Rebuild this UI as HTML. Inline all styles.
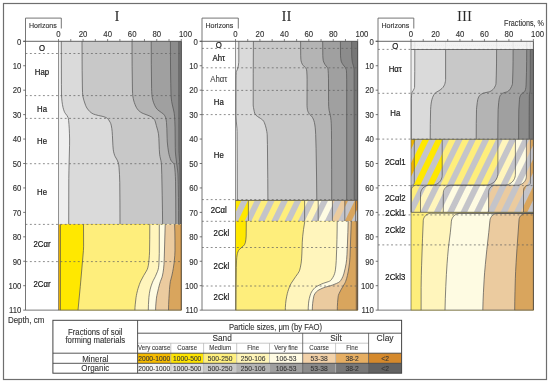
<!DOCTYPE html>
<html><head><meta charset="utf-8"><style>
html,body{margin:0;padding:0;background:#fff;}
#wrap{position:relative;width:550px;height:383px;overflow:hidden;background:#fff;}
svg{position:absolute;left:0;top:0;}
</style></head><body><div id="wrap">
<svg width="550" height="383" viewBox="0 0 550 383">
<defs>
<pattern id="hp2" patternUnits="userSpaceOnUse" width="12.0" height="12.0" patternTransform="translate(268,200.6) rotate(26)"><rect x="0" y="0" width="6.0" height="12.0" fill="#c4c4c9"/></pattern>
<clipPath id="c1"><rect x="235.5" y="200.5" width="122.2" height="20.7"/></clipPath>
<pattern id="hp3" patternUnits="userSpaceOnUse" width="12.0" height="12.0" patternTransform="translate(469,140) rotate(26)"><rect x="0" y="0" width="6.0" height="12.0" fill="#c4c4c9"/></pattern>
<clipPath id="c2"><rect x="411" y="139.3" width="122.4" height="73"/></clipPath>
</defs>
<rect x="3.5" y="3.5" width="543" height="376" fill="#fff" stroke="#6e6e6e" stroke-width="1.2"/>
<rect x="58.5" y="41.3" width="122.8" height="183.1" fill="#eeeeee"/>
<polygon points="61.3,41.3 61.42,84.76 61.5,95.26 61.68,98.25 62.04,101.75 62.44,104.5 63.03,107.5 63.66,109.74 64.2,111.24 64.74,112.49 65.21,113.24 66.93,115.49 67.92,117.24 68.29,118.24 68.62,120.49 68.97,124.48 69.22,128.23 69.44,133.22 69.6,138.97 69.56,145.71 68.94,170.19 68.81,178.44 68.7,224.4 181.3,224.4 181.3,41.3" fill="#dadada"/>
<polygon points="82,41.3 82.15,70.28 82.4,88.01 82.54,92.51 82.72,95.26 82.97,96.75 83.87,100.25 85.11,104 85.66,105.5 86.22,106.75 86.93,108 87.6,108.99 88.6,110.24 89.75,111.49 90.87,112.49 91.93,113.24 93.3,113.99 95.54,114.74 98.36,115.49 102.03,116.24 103.86,116.74 105.89,117.49 106.41,117.74 107.18,118.24 107.98,118.99 108.6,119.74 110.15,122.23 110.82,123.73 111.38,125.98 111.85,128.73 112.16,131.73 112.42,135.47 112.92,145.71 113.21,149.21 113.49,151.21 113.96,153.21 114.67,155.46 115.26,156.71 117.26,160.2 118.32,162.95 118.76,164.7 119.03,167.45 119.51,174.69 119.77,182.68 119.94,202.92 120,224.4 181.3,224.4 181.3,41.3" fill="#c8c8c8"/>
<polygon points="132,41.3 132.11,66.28 132.45,90.01 132.6,93.51 132.8,96.01 133.19,98.25 133.83,101 134.3,102.5 134.94,104.25 135.66,106 136.26,107.25 136.83,108.25 137.51,109.24 138.35,110.24 139.14,110.99 140.76,112.24 142.01,112.99 143.78,113.74 149.08,115.74 151.12,116.74 152.69,117.74 153.47,118.49 154.09,119.24 154.86,120.49 155.42,121.98 156.33,125.48 157.81,130.73 158.4,133.47 158.6,134.97 158.86,138.47 159.31,149.46 159.62,154.21 159.97,156.46 160.87,160.45 161.2,162.2 161.38,163.7 161.5,165.95 161.79,174.69 162.2,195.17 162.46,210.91 162.6,224.4 181.3,224.4 181.3,41.3" fill="#b4b4b4"/>
<polygon points="151.2,41.3 151.3,64.78 151.6,88.26 151.7,91.51 151.88,94.76 152,96.01 152.24,97.5 152.9,100.5 153.6,102.75 154.86,105.75 155.99,107.75 157.13,109.24 157.93,109.99 161.29,112.49 163.08,113.74 163.68,114.24 164.1,114.74 164.75,115.74 165.14,116.49 165.53,117.49 166.16,119.99 166.48,122.48 166.83,128.23 167.14,138.47 167.31,141.97 167.83,147.21 168.57,152.21 169.04,154.46 169.57,156.46 170.22,158.45 170.89,160.2 171.57,161.2 173.8,163.7 174.24,164.45 174.43,165.2 174.85,168.95 175.17,172.69 175.39,176.69 175.54,181.19 175.73,200.92 175.8,224.4 181.3,224.4 181.3,41.3" fill="#a0a0a0"/>
<polygon points="170.4,41.3 170.44,56.29 170.55,70.03 170.75,83.27 171.02,95.51 171.21,98 171.65,101.5 172.15,104 173.99,111.99 174.22,113.49 174.52,116.24 174.82,121.23 175.05,127.73 175.26,147.46 175.38,151.96 175.77,156.21 176.88,165.2 177.67,170.94 177.95,173.94 178.22,184.18 178.44,197.42 178.56,210.66 178.6,224.4 181.3,224.4 181.3,41.3" fill="#8c8c8c"/>
<polygon points="178.8,41.3 178.9,150.21 179.02,153.46 179.64,161.45 179.8,164.95 180.1,193.68 180.2,224.4 181.3,224.4 181.3,41.3" fill="#767676"/>
<polyline points="61.3,41.3 61.42,84.76 61.5,95.26 61.68,98.25 62.04,101.75 62.44,104.5 63.03,107.5 63.66,109.74 64.2,111.24 64.74,112.49 65.21,113.24 66.93,115.49 67.92,117.24 68.29,118.24 68.62,120.49 68.97,124.48 69.22,128.23 69.44,133.22 69.6,138.97 69.56,145.71 68.94,170.19 68.81,178.44 68.7,224.4" fill="none" stroke="#505050" stroke-width="0.7"/>
<polyline points="82,41.3 82.15,70.28 82.4,88.01 82.54,92.51 82.72,95.26 82.97,96.75 83.87,100.25 85.11,104 85.66,105.5 86.22,106.75 86.93,108 87.6,108.99 88.6,110.24 89.75,111.49 90.87,112.49 91.93,113.24 93.3,113.99 95.54,114.74 98.36,115.49 102.03,116.24 103.86,116.74 105.89,117.49 106.41,117.74 107.18,118.24 107.98,118.99 108.6,119.74 110.15,122.23 110.82,123.73 111.38,125.98 111.85,128.73 112.16,131.73 112.42,135.47 112.92,145.71 113.21,149.21 113.49,151.21 113.96,153.21 114.67,155.46 115.26,156.71 117.26,160.2 118.32,162.95 118.76,164.7 119.03,167.45 119.51,174.69 119.77,182.68 119.94,202.92 120,224.4" fill="none" stroke="#505050" stroke-width="0.7"/>
<polyline points="132,41.3 132.11,66.28 132.45,90.01 132.6,93.51 132.8,96.01 133.19,98.25 133.83,101 134.3,102.5 134.94,104.25 135.66,106 136.26,107.25 136.83,108.25 137.51,109.24 138.35,110.24 139.14,110.99 140.76,112.24 142.01,112.99 143.78,113.74 149.08,115.74 151.12,116.74 152.69,117.74 153.47,118.49 154.09,119.24 154.86,120.49 155.42,121.98 156.33,125.48 157.81,130.73 158.4,133.47 158.6,134.97 158.86,138.47 159.31,149.46 159.62,154.21 159.97,156.46 160.87,160.45 161.2,162.2 161.38,163.7 161.5,165.95 161.79,174.69 162.2,195.17 162.46,210.91 162.6,224.4" fill="none" stroke="#505050" stroke-width="0.7"/>
<polyline points="151.2,41.3 151.3,64.78 151.6,88.26 151.7,91.51 151.88,94.76 152,96.01 152.24,97.5 152.9,100.5 153.6,102.75 154.86,105.75 155.99,107.75 157.13,109.24 157.93,109.99 161.29,112.49 163.08,113.74 163.68,114.24 164.1,114.74 164.75,115.74 165.14,116.49 165.53,117.49 166.16,119.99 166.48,122.48 166.83,128.23 167.14,138.47 167.31,141.97 167.83,147.21 168.57,152.21 169.04,154.46 169.57,156.46 170.22,158.45 170.89,160.2 171.57,161.2 173.8,163.7 174.24,164.45 174.43,165.2 174.85,168.95 175.17,172.69 175.39,176.69 175.54,181.19 175.73,200.92 175.8,224.4" fill="none" stroke="#505050" stroke-width="0.7"/>
<polyline points="170.4,41.3 170.44,56.29 170.55,70.03 170.75,83.27 171.02,95.51 171.21,98 171.65,101.5 172.15,104 173.99,111.99 174.22,113.49 174.52,116.24 174.82,121.23 175.05,127.73 175.26,147.46 175.38,151.96 175.77,156.21 176.88,165.2 177.67,170.94 177.95,173.94 178.22,184.18 178.44,197.42 178.56,210.66 178.6,224.4" fill="none" stroke="#505050" stroke-width="0.7"/>
<polyline points="178.8,41.3 178.9,150.21 179.02,153.46 179.64,161.45 179.8,164.95 180.1,193.68 180.2,224.4" fill="none" stroke="#505050" stroke-width="0.7"/>
<rect x="58.5" y="224.4" width="122.8" height="85.74" fill="#f2b600"/>
<polygon points="60.4,224.4 60.4,310.14 181.3,310.14 181.3,224.4" fill="#ffe800"/>
<polygon points="83.5,224.4 83.6,246.15 83.45,250.4 80.28,286.64 78,310.14 181.3,310.14 181.3,224.4" fill="#feee7c"/>
<polygon points="149.8,224.4 149.73,239.15 149.55,251.9 149.37,255.4 149.07,259.15 148.73,262.65 148.37,265.15 147.78,267.89 147.24,269.39 146.33,271.14 143.77,275.39 140.87,280.89 140.31,282.14 139.42,284.39 138.08,288.39 137.53,290.39 136.81,293.39 136.35,295.64 136.02,297.64 135.19,304.89 134.99,307.64 134.9,310.14 181.3,310.14 181.3,224.4" fill="#fff5bc"/>
<polygon points="159.3,224.4 159.27,253.4 158.97,262.65 158.8,265.15 158.55,267.39 158.17,269.39 157.51,271.39 155.27,276.64 153.19,280.64 152.5,282.14 151.14,285.89 150.19,289.14 149.39,293.39 148.89,297.39 148.44,304.64 148.3,310.14 181.3,310.14 181.3,224.4" fill="#fefbe2"/>
<polygon points="165.2,224.4 164.23,258.9 163.97,264.4 163.59,268.89 163.09,272.39 162.34,276.14 161.8,277.89 160.35,281.64 159.66,283.89 158.49,288.39 156.84,295.64 156.44,298.14 155.94,303.14 155.68,306.89 155.6,310.14 181.3,310.14 181.3,224.4" fill="#ebcb9f"/>
<polygon points="174.6,224.4 174.86,231.9 174.98,240.9 174.99,250.9 174.79,255.4 174.11,262.9 173.3,268.39 172.7,271.64 171.8,275.89 170.38,281.39 169.91,284.64 169.48,289.39 168.91,298.39 168.62,304.64 168.5,310.14 181.3,310.14 181.3,224.4" fill="#d9a55d"/>
<polygon points="180.6,224.4 180.6,310.14 181.3,310.14 181.3,224.4" fill="#cf8630"/>
<polyline points="60.4,224.4 60.4,310.14" fill="none" stroke="#505050" stroke-width="0.7"/>
<polyline points="83.5,224.4 83.6,246.15 83.45,250.4 80.28,286.64 78,310.14" fill="none" stroke="#505050" stroke-width="0.7"/>
<polyline points="149.8,224.4 149.73,239.15 149.55,251.9 149.37,255.4 149.07,259.15 148.73,262.65 148.37,265.15 147.78,267.89 147.24,269.39 146.33,271.14 143.77,275.39 140.87,280.89 140.31,282.14 139.42,284.39 138.08,288.39 137.53,290.39 136.81,293.39 136.35,295.64 136.02,297.64 135.19,304.89 134.99,307.64 134.9,310.14" fill="none" stroke="#505050" stroke-width="0.7"/>
<polyline points="159.3,224.4 159.27,253.4 158.97,262.65 158.8,265.15 158.55,267.39 158.17,269.39 157.51,271.39 155.27,276.64 153.19,280.64 152.5,282.14 151.14,285.89 150.19,289.14 149.39,293.39 148.89,297.39 148.44,304.64 148.3,310.14" fill="none" stroke="#505050" stroke-width="0.7"/>
<polyline points="165.2,224.4 164.23,258.9 163.97,264.4 163.59,268.89 163.09,272.39 162.34,276.14 161.8,277.89 160.35,281.64 159.66,283.89 158.49,288.39 156.84,295.64 156.44,298.14 155.94,303.14 155.68,306.89 155.6,310.14" fill="none" stroke="#505050" stroke-width="0.7"/>
<polyline points="174.6,224.4 174.86,231.9 174.98,240.9 174.99,250.9 174.79,255.4 174.11,262.9 173.3,268.39 172.7,271.64 171.8,275.89 170.38,281.39 169.91,284.64 169.48,289.39 168.91,298.39 168.62,304.64 168.5,310.14" fill="none" stroke="#505050" stroke-width="0.7"/>
<line x1="58.5" y1="41.3" x2="58.5" y2="310.14" stroke="#666" stroke-width="0.7"/>
<line x1="181.3" y1="41.3" x2="181.3" y2="310.14" stroke="#444" stroke-width="0.9"/>
<line x1="25.5" y1="53.5" x2="181.3" y2="53.5" stroke="#606060" stroke-width="0.72" stroke-dasharray="1.9,2.46"/>
<line x1="25.5" y1="95.6" x2="181.3" y2="95.6" stroke="#606060" stroke-width="0.72" stroke-dasharray="1.9,2.46"/>
<line x1="25.5" y1="118.4" x2="181.3" y2="118.4" stroke="#606060" stroke-width="0.72" stroke-dasharray="1.9,2.46"/>
<line x1="25.5" y1="163.7" x2="181.3" y2="163.7" stroke="#606060" stroke-width="0.72" stroke-dasharray="1.9,2.46"/>
<line x1="25.5" y1="224.4" x2="181.3" y2="224.4" stroke="#606060" stroke-width="0.72" stroke-dasharray="1.9,2.46"/>
<line x1="25.5" y1="261.6" x2="181.3" y2="261.6" stroke="#606060" stroke-width="0.72" stroke-dasharray="1.9,2.46"/>
<polyline points="25.5,310.14 25.5,18.1 61.3,18.1 61.3,28.5" fill="none" stroke="#666" stroke-width="0.9"/>
<text transform="translate(28.9,28.1) scale(1,1.12)" font-size="7.1" text-anchor="start" font-family='"Liberation Sans", Arial, Helvetica, sans-serif' fill="#333" stroke="#333" stroke-width="0.12">Horizons</text>
<line x1="23.2" y1="41.3" x2="181.3" y2="41.3" stroke="#555" stroke-width="0.9"/>
<line x1="58.5" y1="39" x2="58.5" y2="41.3" stroke="#555" stroke-width="0.7"/>
<line x1="70.78" y1="39" x2="70.78" y2="41.3" stroke="#555" stroke-width="0.7"/>
<line x1="83.06" y1="39" x2="83.06" y2="41.3" stroke="#555" stroke-width="0.7"/>
<line x1="95.34" y1="39" x2="95.34" y2="41.3" stroke="#555" stroke-width="0.7"/>
<line x1="107.62" y1="39" x2="107.62" y2="41.3" stroke="#555" stroke-width="0.7"/>
<line x1="119.9" y1="39" x2="119.9" y2="41.3" stroke="#555" stroke-width="0.7"/>
<line x1="132.18" y1="39" x2="132.18" y2="41.3" stroke="#555" stroke-width="0.7"/>
<line x1="144.46" y1="39" x2="144.46" y2="41.3" stroke="#555" stroke-width="0.7"/>
<line x1="156.74" y1="39" x2="156.74" y2="41.3" stroke="#555" stroke-width="0.7"/>
<line x1="169.02" y1="39" x2="169.02" y2="41.3" stroke="#555" stroke-width="0.7"/>
<line x1="181.3" y1="39" x2="181.3" y2="41.3" stroke="#555" stroke-width="0.7"/>
<text transform="translate(58.5,37.2) scale(1,1.1)" font-size="7.8" text-anchor="middle" font-family='"Liberation Sans", Arial, Helvetica, sans-serif' fill="#333" stroke="#333" stroke-width="0.12">0</text>
<text transform="translate(83.06,37.2) scale(1,1.1)" font-size="7.8" text-anchor="middle" font-family='"Liberation Sans", Arial, Helvetica, sans-serif' fill="#333" stroke="#333" stroke-width="0.12">20</text>
<text transform="translate(107.62,37.2) scale(1,1.1)" font-size="7.8" text-anchor="middle" font-family='"Liberation Sans", Arial, Helvetica, sans-serif' fill="#333" stroke="#333" stroke-width="0.12">40</text>
<text transform="translate(132.18,37.2) scale(1,1.1)" font-size="7.8" text-anchor="middle" font-family='"Liberation Sans", Arial, Helvetica, sans-serif' fill="#333" stroke="#333" stroke-width="0.12">60</text>
<text transform="translate(156.74,37.2) scale(1,1.1)" font-size="7.8" text-anchor="middle" font-family='"Liberation Sans", Arial, Helvetica, sans-serif' fill="#333" stroke="#333" stroke-width="0.12">80</text>
<text transform="translate(185.5,37.2) scale(1,1.1)" font-size="7.8" text-anchor="middle" font-family='"Liberation Sans", Arial, Helvetica, sans-serif' fill="#333" stroke="#333" stroke-width="0.12">100</text>
<line x1="23.2" y1="41.3" x2="25.5" y2="41.3" stroke="#555" stroke-width="0.8"/>
<text transform="translate(21.4,44.6) scale(1,1.08)" font-size="7.8" text-anchor="end" font-family='"Liberation Sans", Arial, Helvetica, sans-serif' fill="#333" stroke="#333" stroke-width="0.12">0</text>
<line x1="23.2" y1="65.74" x2="25.5" y2="65.74" stroke="#555" stroke-width="0.8"/>
<text transform="translate(21.4,69.04) scale(1,1.08)" font-size="7.8" text-anchor="end" font-family='"Liberation Sans", Arial, Helvetica, sans-serif' fill="#333" stroke="#333" stroke-width="0.12">10</text>
<line x1="23.2" y1="90.18" x2="25.5" y2="90.18" stroke="#555" stroke-width="0.8"/>
<text transform="translate(21.4,93.48) scale(1,1.08)" font-size="7.8" text-anchor="end" font-family='"Liberation Sans", Arial, Helvetica, sans-serif' fill="#333" stroke="#333" stroke-width="0.12">20</text>
<line x1="23.2" y1="114.62" x2="25.5" y2="114.62" stroke="#555" stroke-width="0.8"/>
<text transform="translate(21.4,117.92) scale(1,1.08)" font-size="7.8" text-anchor="end" font-family='"Liberation Sans", Arial, Helvetica, sans-serif' fill="#333" stroke="#333" stroke-width="0.12">30</text>
<line x1="23.2" y1="139.06" x2="25.5" y2="139.06" stroke="#555" stroke-width="0.8"/>
<text transform="translate(21.4,142.36) scale(1,1.08)" font-size="7.8" text-anchor="end" font-family='"Liberation Sans", Arial, Helvetica, sans-serif' fill="#333" stroke="#333" stroke-width="0.12">40</text>
<line x1="23.2" y1="163.5" x2="25.5" y2="163.5" stroke="#555" stroke-width="0.8"/>
<text transform="translate(21.4,166.8) scale(1,1.08)" font-size="7.8" text-anchor="end" font-family='"Liberation Sans", Arial, Helvetica, sans-serif' fill="#333" stroke="#333" stroke-width="0.12">50</text>
<line x1="23.2" y1="187.94" x2="25.5" y2="187.94" stroke="#555" stroke-width="0.8"/>
<text transform="translate(21.4,191.24) scale(1,1.08)" font-size="7.8" text-anchor="end" font-family='"Liberation Sans", Arial, Helvetica, sans-serif' fill="#333" stroke="#333" stroke-width="0.12">60</text>
<line x1="23.2" y1="212.38" x2="25.5" y2="212.38" stroke="#555" stroke-width="0.8"/>
<text transform="translate(21.4,215.68) scale(1,1.08)" font-size="7.8" text-anchor="end" font-family='"Liberation Sans", Arial, Helvetica, sans-serif' fill="#333" stroke="#333" stroke-width="0.12">70</text>
<line x1="23.2" y1="236.82" x2="25.5" y2="236.82" stroke="#555" stroke-width="0.8"/>
<text transform="translate(21.4,240.12) scale(1,1.08)" font-size="7.8" text-anchor="end" font-family='"Liberation Sans", Arial, Helvetica, sans-serif' fill="#333" stroke="#333" stroke-width="0.12">80</text>
<line x1="23.2" y1="261.26" x2="25.5" y2="261.26" stroke="#555" stroke-width="0.8"/>
<text transform="translate(21.4,264.56) scale(1,1.08)" font-size="7.8" text-anchor="end" font-family='"Liberation Sans", Arial, Helvetica, sans-serif' fill="#333" stroke="#333" stroke-width="0.12">90</text>
<line x1="23.2" y1="285.7" x2="25.5" y2="285.7" stroke="#555" stroke-width="0.8"/>
<text transform="translate(21.4,289) scale(1,1.08)" font-size="7.8" text-anchor="end" font-family='"Liberation Sans", Arial, Helvetica, sans-serif' fill="#333" stroke="#333" stroke-width="0.12">100</text>
<line x1="23.2" y1="310.14" x2="25.5" y2="310.14" stroke="#555" stroke-width="0.8"/>
<text transform="translate(21.4,313.44) scale(1,1.08)" font-size="7.8" text-anchor="end" font-family='"Liberation Sans", Arial, Helvetica, sans-serif' fill="#333" stroke="#333" stroke-width="0.12">110</text>
<line x1="25.5" y1="310.14" x2="181.3" y2="310.14" stroke="#555" stroke-width="0.8"/>
<text x="116.9" y="20.6" font-size="15" text-anchor="middle" font-family='"Liberation Serif", "Times New Roman", serif' fill="#2a2a2a">I</text>
<text transform="translate(42,50.6) scale(1,1.05)" font-size="7.8" text-anchor="middle" font-family='"Liberation Sans", Arial, Helvetica, sans-serif' fill="#1a1a1a" stroke="#1a1a1a" stroke-width="0.2">O</text>
<text transform="translate(42,74.6) scale(1,1.05)" font-size="7.8" text-anchor="middle" font-family='"Liberation Sans", Arial, Helvetica, sans-serif' fill="#1a1a1a" stroke="#1a1a1a" stroke-width="0.2">Hap</text>
<text transform="translate(42,112) scale(1,1.05)" font-size="7.8" text-anchor="middle" font-family='"Liberation Sans", Arial, Helvetica, sans-serif' fill="#1a1a1a" stroke="#1a1a1a" stroke-width="0.2">Ha</text>
<text transform="translate(42,143.6) scale(1,1.05)" font-size="7.8" text-anchor="middle" font-family='"Liberation Sans", Arial, Helvetica, sans-serif' fill="#1a1a1a" stroke="#1a1a1a" stroke-width="0.2">He</text>
<text transform="translate(42,195.3) scale(1,1.05)" font-size="7.8" text-anchor="middle" font-family='"Liberation Sans", Arial, Helvetica, sans-serif' fill="#1a1a1a" stroke="#1a1a1a" stroke-width="0.2">He</text>
<text transform="translate(42,246.6) scale(1,1.05)" font-size="7.8" text-anchor="middle" font-family='"Liberation Sans", Arial, Helvetica, sans-serif' fill="#1a1a1a" stroke="#1a1a1a" stroke-width="0.2">2Cαr</text>
<text transform="translate(42,286.6) scale(1,1.05)" font-size="7.8" text-anchor="middle" font-family='"Liberation Sans", Arial, Helvetica, sans-serif' fill="#1a1a1a" stroke="#1a1a1a" stroke-width="0.2">2Cαr</text>
<rect x="235.5" y="41.3" width="122.2" height="159.2" fill="#eeeeee"/>
<polygon points="238.8,41.3 238.8,61.04 238.73,62.54 238.45,65.04 238.1,67.04 237.2,69.79 236.41,71.54 236.21,72.29 236.08,75.29 236.01,79.04 235.91,115.53 236.28,121.02 236.95,128.27 237.1,131.52 237.25,162.76 237.3,200.5 357.7,200.5 357.7,41.3" fill="#dadada"/>
<polygon points="253.4,41.3 253.22,73.79 253.2,105.03 253.25,106.03 253.47,107.53 254.3,111.78 254.64,113.03 255.01,114.03 255.33,114.53 255.78,115.03 257.56,116.53 260.29,118.28 261.69,119.28 262.66,120.03 263.35,120.78 263.82,121.52 264.3,122.52 265.32,125.27 266.14,128.27 266.79,131.52 267.08,133.52 267.19,134.77 267.43,144.52 267.78,178.51 267.9,200.5 357.7,200.5 357.7,41.3" fill="#c8c8c8"/>
<polygon points="300.6,41.3 300.71,55.8 300.87,59.29 301.05,60.79 301.56,62.54 302.31,64.29 303.09,65.29 304.73,67.04 305.82,68.04 306.18,68.54 306.55,69.79 306.76,71.04 306.99,75.04 307.1,79.29 307,105.28 307.11,107.28 307.41,109.78 307.58,110.53 307.93,111.53 308.4,112.53 308.96,113.53 309.57,114.28 310.97,115.53 311.42,116.03 312.47,117.53 313.27,119.03 313.92,120.78 314.4,122.52 314.87,125.02 315.23,127.77 315.49,131.02 315.68,134.52 316.09,148.52 316.58,178.01 316.8,200.5 357.7,200.5 357.7,41.3" fill="#b4b4b4"/>
<polygon points="322.7,41.3 322.81,55.55 322.94,58.04 323.19,60.29 323.38,61.04 323.74,62.04 324.68,64.04 325.19,64.79 327.36,67.54 327.69,68.04 327.89,68.54 328.14,70.29 328.34,73.54 328.49,78.79 328.57,101.53 328.65,106.28 329.09,110.28 330.02,114.03 330.73,117.78 331.02,120.28 331.24,123.27 331.44,130.27 331.53,139.27 331.66,169.26 331.7,200.5 357.7,200.5 357.7,41.3" fill="#a0a0a0"/>
<polygon points="340.4,41.3 340.52,55.8 340.72,58.29 341.13,61.04 341.47,62.04 342.15,63.29 343.1,64.79 344.98,67.04 346.04,69.04 346.3,69.79 346.39,70.29 346.58,73.79 346.7,79.79 346.7,200.5 357.7,200.5 357.7,41.3" fill="#8c8c8c"/>
<polygon points="351.6,41.3 351.7,55.05 351.87,58.29 352.33,62.29 352.58,63.29 353.47,66.04 353.94,68.54 354.1,70.29 354.2,200.5 357.7,200.5 357.7,41.3" fill="#767676"/>
<polyline points="238.8,41.3 238.8,61.04 238.73,62.54 238.45,65.04 238.1,67.04 237.2,69.79 236.41,71.54 236.21,72.29 236.08,75.29 236.01,79.04 235.91,115.53 236.28,121.02 236.95,128.27 237.1,131.52 237.25,162.76 237.3,200.5" fill="none" stroke="#505050" stroke-width="0.7"/>
<polyline points="253.4,41.3 253.22,73.79 253.2,105.03 253.25,106.03 253.47,107.53 254.3,111.78 254.64,113.03 255.01,114.03 255.33,114.53 255.78,115.03 257.56,116.53 260.29,118.28 261.69,119.28 262.66,120.03 263.35,120.78 263.82,121.52 264.3,122.52 265.32,125.27 266.14,128.27 266.79,131.52 267.08,133.52 267.19,134.77 267.43,144.52 267.78,178.51 267.9,200.5" fill="none" stroke="#505050" stroke-width="0.7"/>
<polyline points="300.6,41.3 300.71,55.8 300.87,59.29 301.05,60.79 301.56,62.54 302.31,64.29 303.09,65.29 304.73,67.04 305.82,68.04 306.18,68.54 306.55,69.79 306.76,71.04 306.99,75.04 307.1,79.29 307,105.28 307.11,107.28 307.41,109.78 307.58,110.53 307.93,111.53 308.4,112.53 308.96,113.53 309.57,114.28 310.97,115.53 311.42,116.03 312.47,117.53 313.27,119.03 313.92,120.78 314.4,122.52 314.87,125.02 315.23,127.77 315.49,131.02 315.68,134.52 316.09,148.52 316.58,178.01 316.8,200.5" fill="none" stroke="#505050" stroke-width="0.7"/>
<polyline points="322.7,41.3 322.81,55.55 322.94,58.04 323.19,60.29 323.38,61.04 323.74,62.04 324.68,64.04 325.19,64.79 327.36,67.54 327.69,68.04 327.89,68.54 328.14,70.29 328.34,73.54 328.49,78.79 328.57,101.53 328.65,106.28 329.09,110.28 330.02,114.03 330.73,117.78 331.02,120.28 331.24,123.27 331.44,130.27 331.53,139.27 331.66,169.26 331.7,200.5" fill="none" stroke="#505050" stroke-width="0.7"/>
<polyline points="340.4,41.3 340.52,55.8 340.72,58.29 341.13,61.04 341.47,62.04 342.15,63.29 343.1,64.79 344.98,67.04 346.04,69.04 346.3,69.79 346.39,70.29 346.58,73.79 346.7,79.79 346.7,200.5" fill="none" stroke="#505050" stroke-width="0.7"/>
<polyline points="351.6,41.3 351.7,55.05 351.87,58.29 352.33,62.29 352.58,63.29 353.47,66.04 353.94,68.54 354.1,70.29 354.2,200.5" fill="none" stroke="#505050" stroke-width="0.7"/>
<rect x="235.5" y="200.5" width="122.2" height="20.7" fill="#f2b600"/>
<polygon points="235.6,200.5 235.6,221.2 357.7,221.2 357.7,200.5" fill="#ffe800"/>
<polygon points="248.4,200.5 248.4,221.2 357.7,221.2 357.7,200.5" fill="#feee7c"/>
<polygon points="304.6,200.5 304.6,221.2 357.7,221.2 357.7,200.5" fill="#fff5bc"/>
<polygon points="318.2,200.5 318.2,221.2 357.7,221.2 357.7,200.5" fill="#fefbe2"/>
<polygon points="332.4,200.5 332.4,221.2 357.7,221.2 357.7,200.5" fill="#ebcb9f"/>
<polygon points="344.8,200.5 344.8,221.2 357.7,221.2 357.7,200.5" fill="#d9a55d"/>
<polygon points="355.6,200.5 355.6,221.2 357.7,221.2 357.7,200.5" fill="#cf8630"/>
<rect x="235.5" y="200.5" width="122.2" height="20.7" fill="url(#hp2)" clip-path="url(#c1)"/>
<polyline points="248.4,200.5 248.4,221.2" fill="none" stroke="#505050" stroke-width="0.7"/>
<polyline points="304.6,200.5 304.6,221.2" fill="none" stroke="#505050" stroke-width="0.7"/>
<polyline points="318.2,200.5 318.2,221.2" fill="none" stroke="#505050" stroke-width="0.7"/>
<polyline points="332.4,200.5 332.4,221.2" fill="none" stroke="#505050" stroke-width="0.7"/>
<polyline points="344.8,200.5 344.8,221.2" fill="none" stroke="#505050" stroke-width="0.7"/>
<polyline points="355.6,200.5 355.6,221.2" fill="none" stroke="#505050" stroke-width="0.7"/>
<rect x="235.5" y="221.2" width="122.2" height="88.94" fill="#f2b600"/>
<polygon points="235.6,221.2 235.6,310.14 357.7,310.14 357.7,221.2" fill="#ffe800"/>
<polygon points="246.3,221.2 246.17,235.94 245.92,239.19 245.46,242.19 244.95,243.68 244.46,244.68 244.14,245.18 243.39,245.93 239.69,249.18 238.96,249.93 238.59,250.43 237.92,251.93 237.45,253.43 237.15,254.93 236.79,257.43 236.5,260.92 236.3,267.67 236.08,289.65 236,310.14 357.7,310.14 357.7,221.2" fill="#feee7c"/>
<polygon points="304.8,221.2 303.51,229.44 302.71,236.19 302.28,242.19 301.87,253.93 301.59,258.92 301.13,263.17 300.4,267.17 299.65,270.17 299.02,271.67 297.95,273.41 295.62,276.66 291.28,283.16 290.23,285.16 289.39,287.16 288.64,289.15 287.9,291.4 287.29,293.65 286.6,296.9 286.06,299.9 285.61,303.64 285.37,307.39 285.3,310.14 357.7,310.14 357.7,221.2" fill="#fff5bc"/>
<polygon points="337.2,221.2 337.14,229.94 336.96,239.44 336.65,249.68 336.22,260.67 335.92,265.17 335.51,269.17 335.11,271.67 334.57,273.66 333.79,275.66 332.87,277.41 331.7,279.16 330.69,280.41 330.41,280.66 329.52,281.16 328.29,281.66 323.74,283.16 321.72,283.91 317.66,285.91 315.96,286.91 314.96,287.66 313.76,288.9 312.55,290.4 311.57,291.9 310.71,293.65 309.97,295.9 309.27,298.65 308.84,300.9 308.56,303.14 308.28,307.14 308.2,310.14 357.7,310.14 357.7,221.2" fill="#fefbe2"/>
<polygon points="348.2,221.2 347.87,232.44 347.28,248.43 346.98,254.68 346.62,259.67 346.1,263.67 345.22,268.17 344,273.16 343.47,274.91 342.91,276.41 341.84,278.66 340.58,280.66 339.75,281.66 338.65,282.41 336.57,283.41 332.19,285.16 330.65,285.66 325.34,287.16 323.19,287.9 320.94,288.9 318.96,289.9 317.38,290.9 316.55,291.65 315.51,292.9 314.82,293.9 314.16,295.15 313.83,296.15 313.14,299.9 312.67,303.39 312.39,306.89 312.3,310.14 357.7,310.14 357.7,221.2" fill="#ebcb9f"/>
<polygon points="351.3,221.2 349.99,257.18 349.61,262.17 348.84,267.92 348.16,271.92 347.42,275.41 346.63,278.41 345.66,281.41 345.22,282.41 344.69,283.41 340.77,290.15 339.03,293.65 338.38,295.4 338.22,296.15 338.01,297.9 337.59,302.4 337.37,306.39 337.3,310.14 357.7,310.14 357.7,221.2" fill="#d9a55d"/>
<polygon points="356.3,221.2 356.3,310.14 357.7,310.14 357.7,221.2" fill="#cf8630"/>
<polyline points="246.3,221.2 246.17,235.94 245.92,239.19 245.46,242.19 244.95,243.68 244.46,244.68 244.14,245.18 243.39,245.93 239.69,249.18 238.96,249.93 238.59,250.43 237.92,251.93 237.45,253.43 237.15,254.93 236.79,257.43 236.5,260.92 236.3,267.67 236.08,289.65 236,310.14" fill="none" stroke="#505050" stroke-width="0.7"/>
<polyline points="304.8,221.2 303.51,229.44 302.71,236.19 302.28,242.19 301.87,253.93 301.59,258.92 301.13,263.17 300.4,267.17 299.65,270.17 299.02,271.67 297.95,273.41 295.62,276.66 291.28,283.16 290.23,285.16 289.39,287.16 288.64,289.15 287.9,291.4 287.29,293.65 286.6,296.9 286.06,299.9 285.61,303.64 285.37,307.39 285.3,310.14" fill="none" stroke="#505050" stroke-width="0.7"/>
<polyline points="337.2,221.2 337.14,229.94 336.96,239.44 336.65,249.68 336.22,260.67 335.92,265.17 335.51,269.17 335.11,271.67 334.57,273.66 333.79,275.66 332.87,277.41 331.7,279.16 330.69,280.41 330.41,280.66 329.52,281.16 328.29,281.66 323.74,283.16 321.72,283.91 317.66,285.91 315.96,286.91 314.96,287.66 313.76,288.9 312.55,290.4 311.57,291.9 310.71,293.65 309.97,295.9 309.27,298.65 308.84,300.9 308.56,303.14 308.28,307.14 308.2,310.14" fill="none" stroke="#505050" stroke-width="0.7"/>
<polyline points="348.2,221.2 347.87,232.44 347.28,248.43 346.98,254.68 346.62,259.67 346.1,263.67 345.22,268.17 344,273.16 343.47,274.91 342.91,276.41 341.84,278.66 340.58,280.66 339.75,281.66 338.65,282.41 336.57,283.41 332.19,285.16 330.65,285.66 325.34,287.16 323.19,287.9 320.94,288.9 318.96,289.9 317.38,290.9 316.55,291.65 315.51,292.9 314.82,293.9 314.16,295.15 313.83,296.15 313.14,299.9 312.67,303.39 312.39,306.89 312.3,310.14" fill="none" stroke="#505050" stroke-width="0.7"/>
<polyline points="351.3,221.2 349.99,257.18 349.61,262.17 348.84,267.92 348.16,271.92 347.42,275.41 346.63,278.41 345.66,281.41 345.22,282.41 344.69,283.41 340.77,290.15 339.03,293.65 338.38,295.4 338.22,296.15 338.01,297.9 337.59,302.4 337.37,306.39 337.3,310.14" fill="none" stroke="#505050" stroke-width="0.7"/>
<polyline points="356.3,221.2 356.3,310.14" fill="none" stroke="#505050" stroke-width="0.7"/>
<line x1="235.5" y1="41.3" x2="235.5" y2="310.14" stroke="#666" stroke-width="0.7"/>
<line x1="357.7" y1="41.3" x2="357.7" y2="310.14" stroke="#444" stroke-width="0.9"/>
<line x1="235.5" y1="200.4" x2="357.7" y2="200.4" stroke="#4a4a4a" stroke-width="0.8"/>
<line x1="202" y1="48.4" x2="357.7" y2="48.4" stroke="#606060" stroke-width="0.72" stroke-dasharray="1.9,2.46"/>
<line x1="202" y1="67.8" x2="357.7" y2="67.8" stroke="#606060" stroke-width="0.72" stroke-dasharray="1.9,2.46"/>
<line x1="202" y1="90.4" x2="357.7" y2="90.4" stroke="#606060" stroke-width="0.72" stroke-dasharray="1.9,2.46"/>
<line x1="202" y1="114.6" x2="357.7" y2="114.6" stroke="#606060" stroke-width="0.72" stroke-dasharray="1.9,2.46"/>
<line x1="202" y1="199.6" x2="357.7" y2="199.6" stroke="#606060" stroke-width="0.72" stroke-dasharray="1.9,2.46"/>
<line x1="202" y1="221.3" x2="357.7" y2="221.3" stroke="#606060" stroke-width="0.72" stroke-dasharray="1.9,2.46"/>
<line x1="202" y1="247.5" x2="357.7" y2="247.5" stroke="#606060" stroke-width="0.72" stroke-dasharray="1.9,2.46"/>
<line x1="202" y1="286" x2="357.7" y2="286" stroke="#606060" stroke-width="0.72" stroke-dasharray="1.9,2.46"/>
<polyline points="202,310.14 202,18.1 238.3,18.1 238.3,28.5" fill="none" stroke="#666" stroke-width="0.9"/>
<text transform="translate(205.4,28.1) scale(1,1.12)" font-size="7.1" text-anchor="start" font-family='"Liberation Sans", Arial, Helvetica, sans-serif' fill="#333" stroke="#333" stroke-width="0.12">Horizons</text>
<line x1="199.7" y1="41.3" x2="357.7" y2="41.3" stroke="#555" stroke-width="0.9"/>
<line x1="235.5" y1="39" x2="235.5" y2="41.3" stroke="#555" stroke-width="0.7"/>
<line x1="247.72" y1="39" x2="247.72" y2="41.3" stroke="#555" stroke-width="0.7"/>
<line x1="259.94" y1="39" x2="259.94" y2="41.3" stroke="#555" stroke-width="0.7"/>
<line x1="272.16" y1="39" x2="272.16" y2="41.3" stroke="#555" stroke-width="0.7"/>
<line x1="284.38" y1="39" x2="284.38" y2="41.3" stroke="#555" stroke-width="0.7"/>
<line x1="296.6" y1="39" x2="296.6" y2="41.3" stroke="#555" stroke-width="0.7"/>
<line x1="308.82" y1="39" x2="308.82" y2="41.3" stroke="#555" stroke-width="0.7"/>
<line x1="321.04" y1="39" x2="321.04" y2="41.3" stroke="#555" stroke-width="0.7"/>
<line x1="333.26" y1="39" x2="333.26" y2="41.3" stroke="#555" stroke-width="0.7"/>
<line x1="345.48" y1="39" x2="345.48" y2="41.3" stroke="#555" stroke-width="0.7"/>
<line x1="357.7" y1="39" x2="357.7" y2="41.3" stroke="#555" stroke-width="0.7"/>
<text transform="translate(235.5,37.2) scale(1,1.1)" font-size="7.8" text-anchor="middle" font-family='"Liberation Sans", Arial, Helvetica, sans-serif' fill="#333" stroke="#333" stroke-width="0.12">0</text>
<text transform="translate(259.94,37.2) scale(1,1.1)" font-size="7.8" text-anchor="middle" font-family='"Liberation Sans", Arial, Helvetica, sans-serif' fill="#333" stroke="#333" stroke-width="0.12">20</text>
<text transform="translate(284.38,37.2) scale(1,1.1)" font-size="7.8" text-anchor="middle" font-family='"Liberation Sans", Arial, Helvetica, sans-serif' fill="#333" stroke="#333" stroke-width="0.12">40</text>
<text transform="translate(308.82,37.2) scale(1,1.1)" font-size="7.8" text-anchor="middle" font-family='"Liberation Sans", Arial, Helvetica, sans-serif' fill="#333" stroke="#333" stroke-width="0.12">60</text>
<text transform="translate(333.26,37.2) scale(1,1.1)" font-size="7.8" text-anchor="middle" font-family='"Liberation Sans", Arial, Helvetica, sans-serif' fill="#333" stroke="#333" stroke-width="0.12">80</text>
<text transform="translate(361.9,37.2) scale(1,1.1)" font-size="7.8" text-anchor="middle" font-family='"Liberation Sans", Arial, Helvetica, sans-serif' fill="#333" stroke="#333" stroke-width="0.12">100</text>
<line x1="199.7" y1="41.3" x2="202" y2="41.3" stroke="#555" stroke-width="0.8"/>
<text transform="translate(197.9,44.6) scale(1,1.08)" font-size="7.8" text-anchor="end" font-family='"Liberation Sans", Arial, Helvetica, sans-serif' fill="#333" stroke="#333" stroke-width="0.12">0</text>
<line x1="199.7" y1="65.74" x2="202" y2="65.74" stroke="#555" stroke-width="0.8"/>
<text transform="translate(197.9,69.04) scale(1,1.08)" font-size="7.8" text-anchor="end" font-family='"Liberation Sans", Arial, Helvetica, sans-serif' fill="#333" stroke="#333" stroke-width="0.12">10</text>
<line x1="199.7" y1="90.18" x2="202" y2="90.18" stroke="#555" stroke-width="0.8"/>
<text transform="translate(197.9,93.48) scale(1,1.08)" font-size="7.8" text-anchor="end" font-family='"Liberation Sans", Arial, Helvetica, sans-serif' fill="#333" stroke="#333" stroke-width="0.12">20</text>
<line x1="199.7" y1="114.62" x2="202" y2="114.62" stroke="#555" stroke-width="0.8"/>
<text transform="translate(197.9,117.92) scale(1,1.08)" font-size="7.8" text-anchor="end" font-family='"Liberation Sans", Arial, Helvetica, sans-serif' fill="#333" stroke="#333" stroke-width="0.12">30</text>
<line x1="199.7" y1="139.06" x2="202" y2="139.06" stroke="#555" stroke-width="0.8"/>
<text transform="translate(197.9,142.36) scale(1,1.08)" font-size="7.8" text-anchor="end" font-family='"Liberation Sans", Arial, Helvetica, sans-serif' fill="#333" stroke="#333" stroke-width="0.12">40</text>
<line x1="199.7" y1="163.5" x2="202" y2="163.5" stroke="#555" stroke-width="0.8"/>
<text transform="translate(197.9,166.8) scale(1,1.08)" font-size="7.8" text-anchor="end" font-family='"Liberation Sans", Arial, Helvetica, sans-serif' fill="#333" stroke="#333" stroke-width="0.12">50</text>
<line x1="199.7" y1="187.94" x2="202" y2="187.94" stroke="#555" stroke-width="0.8"/>
<text transform="translate(197.9,191.24) scale(1,1.08)" font-size="7.8" text-anchor="end" font-family='"Liberation Sans", Arial, Helvetica, sans-serif' fill="#333" stroke="#333" stroke-width="0.12">60</text>
<line x1="199.7" y1="212.38" x2="202" y2="212.38" stroke="#555" stroke-width="0.8"/>
<text transform="translate(197.9,215.68) scale(1,1.08)" font-size="7.8" text-anchor="end" font-family='"Liberation Sans", Arial, Helvetica, sans-serif' fill="#333" stroke="#333" stroke-width="0.12">70</text>
<line x1="199.7" y1="236.82" x2="202" y2="236.82" stroke="#555" stroke-width="0.8"/>
<text transform="translate(197.9,240.12) scale(1,1.08)" font-size="7.8" text-anchor="end" font-family='"Liberation Sans", Arial, Helvetica, sans-serif' fill="#333" stroke="#333" stroke-width="0.12">80</text>
<line x1="199.7" y1="261.26" x2="202" y2="261.26" stroke="#555" stroke-width="0.8"/>
<text transform="translate(197.9,264.56) scale(1,1.08)" font-size="7.8" text-anchor="end" font-family='"Liberation Sans", Arial, Helvetica, sans-serif' fill="#333" stroke="#333" stroke-width="0.12">90</text>
<line x1="199.7" y1="285.7" x2="202" y2="285.7" stroke="#555" stroke-width="0.8"/>
<text transform="translate(197.9,289) scale(1,1.08)" font-size="7.8" text-anchor="end" font-family='"Liberation Sans", Arial, Helvetica, sans-serif' fill="#333" stroke="#333" stroke-width="0.12">100</text>
<line x1="199.7" y1="310.14" x2="202" y2="310.14" stroke="#555" stroke-width="0.8"/>
<text transform="translate(197.9,313.44) scale(1,1.08)" font-size="7.8" text-anchor="end" font-family='"Liberation Sans", Arial, Helvetica, sans-serif' fill="#333" stroke="#333" stroke-width="0.12">110</text>
<line x1="202" y1="310.14" x2="357.7" y2="310.14" stroke="#555" stroke-width="0.8"/>
<text x="286.5" y="20.6" font-size="15" text-anchor="middle" font-family='"Liberation Serif", "Times New Roman", serif' fill="#2a2a2a">II</text>
<text transform="translate(218.75,47.6) scale(1,1.05)" font-size="7.8" text-anchor="middle" font-family='"Liberation Sans", Arial, Helvetica, sans-serif' fill="#1a1a1a" stroke="#1a1a1a" stroke-width="0.2">O</text>
<text transform="translate(218.75,60.6) scale(1,1.05)" font-size="7.8" text-anchor="middle" font-family='"Liberation Sans", Arial, Helvetica, sans-serif' fill="#1a1a1a" stroke="#1a1a1a" stroke-width="0.2">Ahτ</text>
<text transform="translate(218.75,81.5) scale(1,1.05)" font-size="7.8" text-anchor="middle" font-family='"Liberation Sans", Arial, Helvetica, sans-serif' fill="#3a3a3a" stroke="#3a3a3a" stroke-width="0.05">Ahατ</text>
<text transform="translate(218.75,105) scale(1,1.05)" font-size="7.8" text-anchor="middle" font-family='"Liberation Sans", Arial, Helvetica, sans-serif' fill="#1a1a1a" stroke="#1a1a1a" stroke-width="0.2">Ha</text>
<text transform="translate(218.75,157.9) scale(1,1.05)" font-size="7.8" text-anchor="middle" font-family='"Liberation Sans", Arial, Helvetica, sans-serif' fill="#1a1a1a" stroke="#1a1a1a" stroke-width="0.2">He</text>
<text transform="translate(218.75,212.5) scale(1,1.05)" font-size="7.8" text-anchor="middle" font-family='"Liberation Sans", Arial, Helvetica, sans-serif' fill="#1a1a1a" stroke="#1a1a1a" stroke-width="0.2">2Cαl</text>
<text transform="translate(221.35,235.6) scale(1,1.05)" font-size="7.8" text-anchor="middle" font-family='"Liberation Sans", Arial, Helvetica, sans-serif' fill="#1a1a1a" stroke="#1a1a1a" stroke-width="0.2">2Ckl</text>
<text transform="translate(221.35,269.4) scale(1,1.05)" font-size="7.8" text-anchor="middle" font-family='"Liberation Sans", Arial, Helvetica, sans-serif' fill="#1a1a1a" stroke="#1a1a1a" stroke-width="0.2">2Ckl</text>
<text transform="translate(221.35,300.4) scale(1,1.05)" font-size="7.8" text-anchor="middle" font-family='"Liberation Sans", Arial, Helvetica, sans-serif' fill="#1a1a1a" stroke="#1a1a1a" stroke-width="0.2">2Ckl</text>
<rect x="411.0" y="41.3" width="122.4" height="8.2" fill="#f3f3f3"/>
<line x1="414.8" y1="41.8" x2="414.8" y2="49.5" stroke="#d8d8d8" stroke-width="0.6"/>
<line x1="445.6" y1="41.8" x2="445.6" y2="49.5" stroke="#d8d8d8" stroke-width="0.6"/>
<line x1="496.6" y1="41.8" x2="496.6" y2="49.5" stroke="#d8d8d8" stroke-width="0.6"/>
<line x1="513.1" y1="41.8" x2="513.1" y2="49.5" stroke="#d8d8d8" stroke-width="0.6"/>
<line x1="526.7" y1="41.8" x2="526.7" y2="49.5" stroke="#d8d8d8" stroke-width="0.6"/>
<line x1="530.3" y1="41.8" x2="530.3" y2="49.5" stroke="#d8d8d8" stroke-width="0.6"/>
<line x1="411" y1="45.4" x2="533.4" y2="45.4" stroke="#e4e4e4" stroke-width="0.5" stroke-dasharray="1,1"/>
<rect x="411" y="49.5" width="122.4" height="89.8" fill="#eeeeee"/>
<polygon points="414.8,49.5 414.75,71.45 414.59,87.42 414.48,87.91 414.17,88.66 413.29,90.41 412.34,91.91 411.99,92.65 411.57,95.4 411.33,98.39 411.3,139.3 533.4,139.3 533.4,49.5" fill="#dadada"/>
<polygon points="445.6,49.5 445.6,79.43 445.55,80.43 445.41,81.43 444.91,83.67 444.58,84.67 443.95,85.92 442.96,87.42 442.04,88.41 440.13,89.91 439.07,90.66 436.04,92.4 435.16,93.15 434.16,94.4 433.29,95.9 432.54,97.64 431.91,99.64 431.42,101.88 431.06,104.13 430.8,106.62 430.62,109.37 430.31,124.33 430.2,139.3 533.4,139.3 533.4,49.5" fill="#c8c8c8"/>
<polygon points="496.6,49.5 496.52,63.97 496.27,75.94 495.99,83.42 495.83,84.42 495.51,85.42 494.68,87.17 493.75,88.66 493.09,89.41 492.54,89.91 491.15,90.91 489.73,91.66 488.87,91.91 484.28,92.9 483.38,93.15 481.8,93.9 480.96,94.4 480.27,94.9 479.54,95.65 478.76,96.89 478.19,98.14 477.74,99.64 477.24,102.63 476.65,107.87 476.51,109.62 476.28,123.59 476.2,139.3 533.4,139.3 533.4,49.5" fill="#b4b4b4"/>
<polygon points="513.1,49.5 513.05,61.47 512.88,71.95 512.51,83.18 512.43,83.92 512.27,84.67 511.59,86.42 510.44,88.66 509.56,89.91 508.56,90.91 507.52,91.66 506.88,91.91 503.43,92.9 502.77,93.15 501.66,93.9 500.83,94.65 500.26,95.4 499.91,96.15 499.43,97.64 499.11,99.14 498.66,102.63 498.11,109.62 497.88,123.83 497.8,139.3 533.4,139.3 533.4,49.5" fill="#a0a0a0"/>
<polygon points="526.7,49.5 526.64,61.47 526.47,72.45 526.1,84.92 525.88,87.42 525.48,89.41 524.93,91.16 524.75,91.41 524.19,91.91 522,93.4 521.47,93.9 521.3,94.15 520.41,95.65 519.86,96.89 519.62,97.89 519.45,99.39 518.8,109.87 518.65,123.83 518.6,139.3 533.4,139.3 533.4,49.5" fill="#8c8c8c"/>
<polygon points="530.3,49.5 530.25,71.95 530.1,90.16 529.94,91.66 529.41,94.65 529.3,96.15 529.15,115.6 529.1,139.3 533.4,139.3 533.4,49.5" fill="#767676"/>
<polyline points="414.8,49.5 414.75,71.45 414.59,87.42 414.48,87.91 414.17,88.66 413.29,90.41 412.34,91.91 411.99,92.65 411.57,95.4 411.33,98.39 411.3,139.3" fill="none" stroke="#505050" stroke-width="0.7"/>
<polyline points="445.6,49.5 445.6,79.43 445.55,80.43 445.41,81.43 444.91,83.67 444.58,84.67 443.95,85.92 442.96,87.42 442.04,88.41 440.13,89.91 439.07,90.66 436.04,92.4 435.16,93.15 434.16,94.4 433.29,95.9 432.54,97.64 431.91,99.64 431.42,101.88 431.06,104.13 430.8,106.62 430.62,109.37 430.31,124.33 430.2,139.3" fill="none" stroke="#505050" stroke-width="0.7"/>
<polyline points="496.6,49.5 496.52,63.97 496.27,75.94 495.99,83.42 495.83,84.42 495.51,85.42 494.68,87.17 493.75,88.66 493.09,89.41 492.54,89.91 491.15,90.91 489.73,91.66 488.87,91.91 484.28,92.9 483.38,93.15 481.8,93.9 480.96,94.4 480.27,94.9 479.54,95.65 478.76,96.89 478.19,98.14 477.74,99.64 477.24,102.63 476.65,107.87 476.51,109.62 476.28,123.59 476.2,139.3" fill="none" stroke="#505050" stroke-width="0.7"/>
<polyline points="513.1,49.5 513.05,61.47 512.88,71.95 512.51,83.18 512.43,83.92 512.27,84.67 511.59,86.42 510.44,88.66 509.56,89.91 508.56,90.91 507.52,91.66 506.88,91.91 503.43,92.9 502.77,93.15 501.66,93.9 500.83,94.65 500.26,95.4 499.91,96.15 499.43,97.64 499.11,99.14 498.66,102.63 498.11,109.62 497.88,123.83 497.8,139.3" fill="none" stroke="#505050" stroke-width="0.7"/>
<polyline points="526.7,49.5 526.64,61.47 526.47,72.45 526.1,84.92 525.88,87.42 525.48,89.41 524.93,91.16 524.75,91.41 524.19,91.91 522,93.4 521.47,93.9 521.3,94.15 520.41,95.65 519.86,96.89 519.62,97.89 519.45,99.39 518.8,109.87 518.65,123.83 518.6,139.3" fill="none" stroke="#505050" stroke-width="0.7"/>
<polyline points="530.3,49.5 530.25,71.95 530.1,90.16 529.94,91.66 529.41,94.65 529.3,96.15 529.15,115.6 529.1,139.3" fill="none" stroke="#505050" stroke-width="0.7"/>
<rect x="411" y="139.3" width="122.4" height="73" fill="#f2b600"/>
<polygon points="414.3,139.3 414.3,182.4 414.27,182.79 414.2,183.18 414.07,183.55 413.9,183.9 413.68,184.23 413.42,184.52 413.13,184.78 412.8,185 412.45,185.17 412.08,185.3 411.69,185.37 411.3,185.4 411.3,185.4 411.27,185.4 411.25,185.41 411.22,185.42 411.2,185.43 411.18,185.44 411.16,185.46 411.14,185.48 411.13,185.5 411.12,185.52 411.11,185.55 411.1,185.57 411.1,185.6 411.1,212.3 533.4,212.3 533.4,139.3" fill="#ffe800"/>
<polygon points="442.2,139.3 442.2,175.2 442.11,176.51 441.86,177.79 441.44,179.03 440.86,180.2 440.13,181.29 439.27,182.27 438.29,183.13 437.2,183.86 436.03,184.44 434.79,184.86 433.51,185.11 432.2,185.2 416.3,185.2 415.65,185.24 415.01,185.37 414.39,185.58 413.8,185.87 413.26,186.23 412.76,186.66 412.33,187.16 411.97,187.7 411.68,188.29 411.47,188.91 411.34,189.55 411.3,190.2 411.3,212.3 533.4,212.3 533.4,139.3" fill="#feee7c"/>
<polygon points="497.9,139.3 497.9,173.2 497.8,174.77 497.49,176.31 496.99,177.79 496.29,179.2 495.42,180.51 494.39,181.69 493.21,182.72 491.9,183.59 490.49,184.29 489.01,184.79 487.47,185.1 485.9,185.2 429.5,185.2 428.33,185.28 427.17,185.51 426.06,185.89 425,186.41 424.02,187.06 423.14,187.84 422.36,188.72 421.71,189.7 421.19,190.76 420.81,191.87 420.58,193.03 420.5,194.2 420.5,212.3 533.4,212.3 533.4,139.3" fill="#fff5bc"/>
<polygon points="515.4,139.3 515.4,174.2 515.31,175.64 515.03,177.05 514.56,178.41 513.93,179.7 513.13,180.9 512.18,181.98 511.1,182.93 509.9,183.73 508.61,184.36 507.25,184.83 505.84,185.11 504.4,185.2 451.3,185.2 450.26,185.27 449.23,185.47 448.24,185.81 447.3,186.27 446.43,186.85 445.64,187.54 444.95,188.33 444.37,189.2 443.91,190.14 443.57,191.13 443.37,192.16 443.3,193.2 443.3,212.3 533.4,212.3 533.4,139.3" fill="#fefbe2"/>
<polygon points="526.4,139.3 526.4,176.2 526.32,177.37 526.09,178.53 525.71,179.64 525.19,180.7 524.54,181.68 523.76,182.56 522.88,183.34 521.9,183.99 520.84,184.51 519.73,184.89 518.57,185.12 517.4,185.2 495.6,185.2 494.69,185.26 493.79,185.44 492.92,185.73 492.1,186.14 491.34,186.65 490.65,187.25 490.05,187.94 489.54,188.7 489.13,189.52 488.84,190.39 488.66,191.29 488.6,192.2 488.6,212.3 533.4,212.3 533.4,139.3" fill="#ebcb9f"/>
<polygon points="530.4,139.3 530.4,183.2 530.38,183.46 530.33,183.72 530.25,183.97 530.13,184.2 529.99,184.42 529.81,184.61 529.62,184.79 529.4,184.93 529.17,185.05 528.92,185.13 528.66,185.18 528.4,185.2 528.5,185.2 527.85,185.24 527.21,185.37 526.59,185.58 526,185.87 525.46,186.23 524.96,186.66 524.53,187.16 524.17,187.7 523.88,188.29 523.67,188.91 523.54,189.55 523.5,190.2 523.5,212.3 533.4,212.3 533.4,139.3" fill="#d9a55d"/>
<polygon points="533,139.3 533,212.3 533.4,212.3 533.4,139.3" fill="#cf8630"/>
<rect x="411" y="139.3" width="122.4" height="73" fill="url(#hp3)" clip-path="url(#c2)"/>
<polyline points="414.3,139.3 414.3,182.4 414.27,182.79 414.2,183.18 414.07,183.55 413.9,183.9 413.68,184.23 413.42,184.52 413.13,184.78 412.8,185 412.45,185.17 412.08,185.3 411.69,185.37 411.3,185.4 411.3,185.4 411.27,185.4 411.25,185.41 411.22,185.42 411.2,185.43 411.18,185.44 411.16,185.46 411.14,185.48 411.13,185.5 411.12,185.52 411.11,185.55 411.1,185.57 411.1,185.6 411.1,212.3" fill="none" stroke="#505050" stroke-width="0.7"/>
<polyline points="442.2,139.3 442.2,175.2 442.11,176.51 441.86,177.79 441.44,179.03 440.86,180.2 440.13,181.29 439.27,182.27 438.29,183.13 437.2,183.86 436.03,184.44 434.79,184.86 433.51,185.11 432.2,185.2 416.3,185.2 415.65,185.24 415.01,185.37 414.39,185.58 413.8,185.87 413.26,186.23 412.76,186.66 412.33,187.16 411.97,187.7 411.68,188.29 411.47,188.91 411.34,189.55 411.3,190.2 411.3,212.3" fill="none" stroke="#505050" stroke-width="0.7"/>
<polyline points="497.9,139.3 497.9,173.2 497.8,174.77 497.49,176.31 496.99,177.79 496.29,179.2 495.42,180.51 494.39,181.69 493.21,182.72 491.9,183.59 490.49,184.29 489.01,184.79 487.47,185.1 485.9,185.2 429.5,185.2 428.33,185.28 427.17,185.51 426.06,185.89 425,186.41 424.02,187.06 423.14,187.84 422.36,188.72 421.71,189.7 421.19,190.76 420.81,191.87 420.58,193.03 420.5,194.2 420.5,212.3" fill="none" stroke="#505050" stroke-width="0.7"/>
<polyline points="515.4,139.3 515.4,174.2 515.31,175.64 515.03,177.05 514.56,178.41 513.93,179.7 513.13,180.9 512.18,181.98 511.1,182.93 509.9,183.73 508.61,184.36 507.25,184.83 505.84,185.11 504.4,185.2 451.3,185.2 450.26,185.27 449.23,185.47 448.24,185.81 447.3,186.27 446.43,186.85 445.64,187.54 444.95,188.33 444.37,189.2 443.91,190.14 443.57,191.13 443.37,192.16 443.3,193.2 443.3,212.3" fill="none" stroke="#505050" stroke-width="0.7"/>
<polyline points="526.4,139.3 526.4,176.2 526.32,177.37 526.09,178.53 525.71,179.64 525.19,180.7 524.54,181.68 523.76,182.56 522.88,183.34 521.9,183.99 520.84,184.51 519.73,184.89 518.57,185.12 517.4,185.2 495.6,185.2 494.69,185.26 493.79,185.44 492.92,185.73 492.1,186.14 491.34,186.65 490.65,187.25 490.05,187.94 489.54,188.7 489.13,189.52 488.84,190.39 488.66,191.29 488.6,192.2 488.6,212.3" fill="none" stroke="#505050" stroke-width="0.7"/>
<polyline points="530.4,139.3 530.4,183.2 530.38,183.46 530.33,183.72 530.25,183.97 530.13,184.2 529.99,184.42 529.81,184.61 529.62,184.79 529.4,184.93 529.17,185.05 528.92,185.13 528.66,185.18 528.4,185.2 528.5,185.2 527.85,185.24 527.21,185.37 526.59,185.58 526,185.87 525.46,186.23 524.96,186.66 524.53,187.16 524.17,187.7 523.88,188.29 523.67,188.91 523.54,189.55 523.5,190.2 523.5,212.3" fill="none" stroke="#505050" stroke-width="0.7"/>
<rect x="411" y="212.3" width="122.4" height="97.84" fill="#f2b600"/>
<polygon points="411.1,212.3 411.1,310.14 533.4,310.14 533.4,212.3" fill="#ffe800"/>
<polygon points="411.2,212.3 411.2,310.14 533.4,310.14 533.4,212.3" fill="#feee7c"/>
<polygon points="533.4,213.3 431.2,213.3 430.16,213.37 429.13,213.57 428.14,213.91 427.2,214.37 426.33,214.95 425.54,215.64 424.85,216.43 424.27,217.3 423.81,218.24 423.47,219.23 423.27,220.26 422.51,238.8 421.58,265.8 421.29,275.8 421.11,287.3 421.1,310.14 533.4,310.14 533.4,212.3" fill="#fff5bc"/>
<polygon points="533.4,213.3 460.3,213.3 459.13,213.38 457.97,213.61 456.86,213.99 455.8,214.51 454.82,215.16 453.94,215.94 453.16,216.82 452.51,217.8 451.99,218.86 451.61,219.97 451.38,221.13 450.95,226.3 450.31,232.8 448.77,244.8 448.32,248.8 447.65,256.3 447.07,263.8 446.4,274.3 445.81,286.3 445.31,298.8 445,310.14 533.4,310.14 533.4,212.3" fill="#fefbe2"/>
<polygon points="533.4,213.3 497.9,213.3 496.86,213.37 495.83,213.57 494.84,213.91 493.9,214.37 493.03,214.95 492.24,215.64 491.55,216.43 490.97,217.3 490.51,218.24 490.17,219.23 489.97,220.26 488.77,232.3 486.87,249.3 485.36,264.3 484.6,272.8 484.11,279.8 483.41,292.8 483.03,301.8 482.8,310.14 533.4,310.14 533.4,212.3" fill="#ebcb9f"/>
<polygon points="533.4,213.3 526,213.3 525.09,213.36 524.19,213.54 523.32,213.83 522.5,214.24 521.74,214.75 521.05,215.35 520.45,216.04 519.94,216.8 519.53,217.62 519.24,218.49 519.06,219.39 517.01,248.3 516.1,262.8 515.64,271.3 515.34,278.8 514.98,291.8 514.78,301.8 514.7,310.14 533.4,310.14 533.4,212.3" fill="#d9a55d"/>
<polygon points="533,212.3 533,310.14 533.4,310.14 533.4,212.3" fill="#cf8630"/>
<polyline points="533.4,213.3 431.2,213.3 430.16,213.37 429.13,213.57 428.14,213.91 427.2,214.37 426.33,214.95 425.54,215.64 424.85,216.43 424.27,217.3 423.81,218.24 423.47,219.23 423.27,220.26 422.51,238.8 421.58,265.8 421.29,275.8 421.11,287.3 421.1,310.14" fill="none" stroke="#505050" stroke-width="0.7"/>
<polyline points="533.4,213.3 460.3,213.3 459.13,213.38 457.97,213.61 456.86,213.99 455.8,214.51 454.82,215.16 453.94,215.94 453.16,216.82 452.51,217.8 451.99,218.86 451.61,219.97 451.38,221.13 450.95,226.3 450.31,232.8 448.77,244.8 448.32,248.8 447.65,256.3 447.07,263.8 446.4,274.3 445.81,286.3 445.31,298.8 445,310.14" fill="none" stroke="#505050" stroke-width="0.7"/>
<polyline points="533.4,213.3 497.9,213.3 496.86,213.37 495.83,213.57 494.84,213.91 493.9,214.37 493.03,214.95 492.24,215.64 491.55,216.43 490.97,217.3 490.51,218.24 490.17,219.23 489.97,220.26 488.77,232.3 486.87,249.3 485.36,264.3 484.6,272.8 484.11,279.8 483.41,292.8 483.03,301.8 482.8,310.14" fill="none" stroke="#505050" stroke-width="0.7"/>
<polyline points="533.4,213.3 526,213.3 525.09,213.36 524.19,213.54 523.32,213.83 522.5,214.24 521.74,214.75 521.05,215.35 520.45,216.04 519.94,216.8 519.53,217.62 519.24,218.49 519.06,219.39 517.01,248.3 516.1,262.8 515.64,271.3 515.34,278.8 514.98,291.8 514.78,301.8 514.7,310.14" fill="none" stroke="#505050" stroke-width="0.7"/>
<line x1="411" y1="49.5" x2="533.4" y2="49.5" stroke="#555" stroke-width="0.8"/>
<line x1="411" y1="139.3" x2="533.4" y2="139.3" stroke="#555" stroke-width="0.8"/>
<line x1="411" y1="212.3" x2="533.4" y2="212.3" stroke="#555" stroke-width="0.8"/>
<line x1="411" y1="41.3" x2="411" y2="310.14" stroke="#666" stroke-width="0.7"/>
<line x1="533.4" y1="41.3" x2="533.4" y2="310.14" stroke="#444" stroke-width="0.9"/>
<line x1="378" y1="49.4" x2="533.4" y2="49.4" stroke="#606060" stroke-width="0.72" stroke-dasharray="1.9,2.46"/>
<line x1="378" y1="93.3" x2="533.4" y2="93.3" stroke="#606060" stroke-width="0.72" stroke-dasharray="1.9,2.46"/>
<line x1="378" y1="139.1" x2="533.4" y2="139.1" stroke="#606060" stroke-width="0.72" stroke-dasharray="1.9,2.46"/>
<line x1="378" y1="185.6" x2="533.4" y2="185.6" stroke="#606060" stroke-width="0.72" stroke-dasharray="1.9,2.46"/>
<line x1="378" y1="214.9" x2="533.4" y2="214.9" stroke="#606060" stroke-width="0.72" stroke-dasharray="1.9,2.46"/>
<line x1="378" y1="244.9" x2="533.4" y2="244.9" stroke="#606060" stroke-width="0.72" stroke-dasharray="1.9,2.46"/>
<polyline points="378,310.14 378,18.1 413.8,18.1 413.8,28.5" fill="none" stroke="#666" stroke-width="0.9"/>
<text transform="translate(381.4,28.1) scale(1,1.12)" font-size="7.1" text-anchor="start" font-family='"Liberation Sans", Arial, Helvetica, sans-serif' fill="#333" stroke="#333" stroke-width="0.12">Horizons</text>
<line x1="375.7" y1="41.3" x2="533.4" y2="41.3" stroke="#555" stroke-width="0.9"/>
<line x1="411" y1="39" x2="411" y2="41.3" stroke="#555" stroke-width="0.7"/>
<line x1="423.24" y1="39" x2="423.24" y2="41.3" stroke="#555" stroke-width="0.7"/>
<line x1="435.48" y1="39" x2="435.48" y2="41.3" stroke="#555" stroke-width="0.7"/>
<line x1="447.72" y1="39" x2="447.72" y2="41.3" stroke="#555" stroke-width="0.7"/>
<line x1="459.96" y1="39" x2="459.96" y2="41.3" stroke="#555" stroke-width="0.7"/>
<line x1="472.2" y1="39" x2="472.2" y2="41.3" stroke="#555" stroke-width="0.7"/>
<line x1="484.44" y1="39" x2="484.44" y2="41.3" stroke="#555" stroke-width="0.7"/>
<line x1="496.68" y1="39" x2="496.68" y2="41.3" stroke="#555" stroke-width="0.7"/>
<line x1="508.92" y1="39" x2="508.92" y2="41.3" stroke="#555" stroke-width="0.7"/>
<line x1="521.16" y1="39" x2="521.16" y2="41.3" stroke="#555" stroke-width="0.7"/>
<line x1="533.4" y1="39" x2="533.4" y2="41.3" stroke="#555" stroke-width="0.7"/>
<text transform="translate(411,37.2) scale(1,1.1)" font-size="7.8" text-anchor="middle" font-family='"Liberation Sans", Arial, Helvetica, sans-serif' fill="#333" stroke="#333" stroke-width="0.12">0</text>
<text transform="translate(435.48,37.2) scale(1,1.1)" font-size="7.8" text-anchor="middle" font-family='"Liberation Sans", Arial, Helvetica, sans-serif' fill="#333" stroke="#333" stroke-width="0.12">20</text>
<text transform="translate(459.96,37.2) scale(1,1.1)" font-size="7.8" text-anchor="middle" font-family='"Liberation Sans", Arial, Helvetica, sans-serif' fill="#333" stroke="#333" stroke-width="0.12">40</text>
<text transform="translate(484.44,37.2) scale(1,1.1)" font-size="7.8" text-anchor="middle" font-family='"Liberation Sans", Arial, Helvetica, sans-serif' fill="#333" stroke="#333" stroke-width="0.12">60</text>
<text transform="translate(508.92,37.2) scale(1,1.1)" font-size="7.8" text-anchor="middle" font-family='"Liberation Sans", Arial, Helvetica, sans-serif' fill="#333" stroke="#333" stroke-width="0.12">80</text>
<text transform="translate(537.6,37.2) scale(1,1.1)" font-size="7.8" text-anchor="middle" font-family='"Liberation Sans", Arial, Helvetica, sans-serif' fill="#333" stroke="#333" stroke-width="0.12">100</text>
<line x1="375.7" y1="41.3" x2="378" y2="41.3" stroke="#555" stroke-width="0.8"/>
<text transform="translate(373.9,44.6) scale(1,1.08)" font-size="7.8" text-anchor="end" font-family='"Liberation Sans", Arial, Helvetica, sans-serif' fill="#333" stroke="#333" stroke-width="0.12">0</text>
<line x1="375.7" y1="65.74" x2="378" y2="65.74" stroke="#555" stroke-width="0.8"/>
<text transform="translate(373.9,69.04) scale(1,1.08)" font-size="7.8" text-anchor="end" font-family='"Liberation Sans", Arial, Helvetica, sans-serif' fill="#333" stroke="#333" stroke-width="0.12">10</text>
<line x1="375.7" y1="90.18" x2="378" y2="90.18" stroke="#555" stroke-width="0.8"/>
<text transform="translate(373.9,93.48) scale(1,1.08)" font-size="7.8" text-anchor="end" font-family='"Liberation Sans", Arial, Helvetica, sans-serif' fill="#333" stroke="#333" stroke-width="0.12">20</text>
<line x1="375.7" y1="114.62" x2="378" y2="114.62" stroke="#555" stroke-width="0.8"/>
<text transform="translate(373.9,117.92) scale(1,1.08)" font-size="7.8" text-anchor="end" font-family='"Liberation Sans", Arial, Helvetica, sans-serif' fill="#333" stroke="#333" stroke-width="0.12">30</text>
<line x1="375.7" y1="139.06" x2="378" y2="139.06" stroke="#555" stroke-width="0.8"/>
<text transform="translate(373.9,142.36) scale(1,1.08)" font-size="7.8" text-anchor="end" font-family='"Liberation Sans", Arial, Helvetica, sans-serif' fill="#333" stroke="#333" stroke-width="0.12">40</text>
<line x1="375.7" y1="163.5" x2="378" y2="163.5" stroke="#555" stroke-width="0.8"/>
<text transform="translate(373.9,166.8) scale(1,1.08)" font-size="7.8" text-anchor="end" font-family='"Liberation Sans", Arial, Helvetica, sans-serif' fill="#333" stroke="#333" stroke-width="0.12">50</text>
<line x1="375.7" y1="187.94" x2="378" y2="187.94" stroke="#555" stroke-width="0.8"/>
<text transform="translate(373.9,191.24) scale(1,1.08)" font-size="7.8" text-anchor="end" font-family='"Liberation Sans", Arial, Helvetica, sans-serif' fill="#333" stroke="#333" stroke-width="0.12">60</text>
<line x1="375.7" y1="212.38" x2="378" y2="212.38" stroke="#555" stroke-width="0.8"/>
<text transform="translate(373.9,215.68) scale(1,1.08)" font-size="7.8" text-anchor="end" font-family='"Liberation Sans", Arial, Helvetica, sans-serif' fill="#333" stroke="#333" stroke-width="0.12">70</text>
<line x1="375.7" y1="236.82" x2="378" y2="236.82" stroke="#555" stroke-width="0.8"/>
<text transform="translate(373.9,240.12) scale(1,1.08)" font-size="7.8" text-anchor="end" font-family='"Liberation Sans", Arial, Helvetica, sans-serif' fill="#333" stroke="#333" stroke-width="0.12">80</text>
<line x1="375.7" y1="261.26" x2="378" y2="261.26" stroke="#555" stroke-width="0.8"/>
<text transform="translate(373.9,264.56) scale(1,1.08)" font-size="7.8" text-anchor="end" font-family='"Liberation Sans", Arial, Helvetica, sans-serif' fill="#333" stroke="#333" stroke-width="0.12">90</text>
<line x1="375.7" y1="285.7" x2="378" y2="285.7" stroke="#555" stroke-width="0.8"/>
<text transform="translate(373.9,289) scale(1,1.08)" font-size="7.8" text-anchor="end" font-family='"Liberation Sans", Arial, Helvetica, sans-serif' fill="#333" stroke="#333" stroke-width="0.12">100</text>
<line x1="375.7" y1="310.14" x2="378" y2="310.14" stroke="#555" stroke-width="0.8"/>
<text transform="translate(373.9,313.44) scale(1,1.08)" font-size="7.8" text-anchor="end" font-family='"Liberation Sans", Arial, Helvetica, sans-serif' fill="#333" stroke="#333" stroke-width="0.12">110</text>
<line x1="378" y1="310.14" x2="533.4" y2="310.14" stroke="#555" stroke-width="0.8"/>
<text x="464.6" y="20.6" font-size="15" text-anchor="middle" font-family='"Liberation Serif", "Times New Roman", serif' fill="#2a2a2a">III</text>
<text transform="translate(544,26) scale(1,1.15)" font-size="7.2" text-anchor="end" font-family='"Liberation Sans", Arial, Helvetica, sans-serif' fill="#333" stroke="#333" stroke-width="0.1">Fractions, %</text>
<text transform="translate(395.3,48.6) scale(1,1.05)" font-size="7.8" text-anchor="middle" font-family='"Liberation Sans", Arial, Helvetica, sans-serif' fill="#1a1a1a" stroke="#1a1a1a" stroke-width="0.2">O</text>
<text transform="translate(395.3,71.6) scale(1,1.05)" font-size="7.8" text-anchor="middle" font-family='"Liberation Sans", Arial, Helvetica, sans-serif' fill="#1a1a1a" stroke="#1a1a1a" stroke-width="0.2">Hατ</text>
<text transform="translate(395.3,116.4) scale(1,1.05)" font-size="7.8" text-anchor="middle" font-family='"Liberation Sans", Arial, Helvetica, sans-serif' fill="#1a1a1a" stroke="#1a1a1a" stroke-width="0.2">Ha</text>
<text transform="translate(395.3,165.2) scale(1,1.05)" font-size="7.8" text-anchor="middle" font-family='"Liberation Sans", Arial, Helvetica, sans-serif' fill="#1a1a1a" stroke="#1a1a1a" stroke-width="0.2">2Cαl1</text>
<text transform="translate(395.3,201) scale(1,1.05)" font-size="7.8" text-anchor="middle" font-family='"Liberation Sans", Arial, Helvetica, sans-serif' fill="#1a1a1a" stroke="#1a1a1a" stroke-width="0.2">2Cαl2</text>
<text transform="translate(395.3,215.9) scale(1,1.05)" font-size="7.8" text-anchor="middle" font-family='"Liberation Sans", Arial, Helvetica, sans-serif' fill="#1a1a1a" stroke="#1a1a1a" stroke-width="0.2">2Ckl1</text>
<text transform="translate(395.3,233) scale(1,1.05)" font-size="7.8" text-anchor="middle" font-family='"Liberation Sans", Arial, Helvetica, sans-serif' fill="#1a1a1a" stroke="#1a1a1a" stroke-width="0.2">2Ckl2</text>
<text transform="translate(395.3,280) scale(1,1.05)" font-size="7.8" text-anchor="middle" font-family='"Liberation Sans", Arial, Helvetica, sans-serif' fill="#1a1a1a" stroke="#1a1a1a" stroke-width="0.2">2Ckl3</text>
<text transform="translate(7.9,323.2) scale(1,1.1)" font-size="8.0" text-anchor="start" font-family='"Liberation Sans", Arial, Helvetica, sans-serif' fill="#333" stroke="#333" stroke-width="0.12">Depth, cm</text>
<rect x="52.9" y="320.3" width="348.7" height="52.9" fill="#fff"/>
<rect x="137.6" y="353.2" width="33.2" height="10.1" fill="#f6bb00"/>
<rect x="137.6" y="363.3" width="33.2" height="9.9" fill="#f3f3f3"/>
<rect x="170.8" y="353.2" width="32.8" height="10.1" fill="#ffe500"/>
<rect x="170.8" y="363.3" width="32.8" height="9.9" fill="#dcdcdc"/>
<rect x="203.6" y="353.2" width="33.1" height="10.1" fill="#fff07e"/>
<rect x="203.6" y="363.3" width="33.1" height="9.9" fill="#c9c9c9"/>
<rect x="236.7" y="353.2" width="32.8" height="10.1" fill="#fff5b8"/>
<rect x="236.7" y="363.3" width="32.8" height="9.9" fill="#b4b4b4"/>
<rect x="269.5" y="353.2" width="33.2" height="10.1" fill="#fffbe3"/>
<rect x="269.5" y="363.3" width="33.2" height="9.9" fill="#9f9f9f"/>
<rect x="302.7" y="353.2" width="32.9" height="10.1" fill="#f2d1a8"/>
<rect x="302.7" y="363.3" width="32.9" height="9.9" fill="#8a8a8a"/>
<rect x="335.6" y="353.2" width="33" height="10.1" fill="#e6ae62"/>
<rect x="335.6" y="363.3" width="33" height="9.9" fill="#777777"/>
<rect x="368.6" y="353.2" width="33" height="10.1" fill="#d5892c"/>
<rect x="368.6" y="363.3" width="33" height="9.9" fill="#626262"/>
<line x1="170.8" y1="343.2" x2="170.8" y2="373.2" stroke="#b0b0b0" stroke-width="0.7"/>
<line x1="203.6" y1="343.2" x2="203.6" y2="373.2" stroke="#b0b0b0" stroke-width="0.7"/>
<line x1="236.7" y1="343.2" x2="236.7" y2="373.2" stroke="#b0b0b0" stroke-width="0.7"/>
<line x1="269.5" y1="343.2" x2="269.5" y2="373.2" stroke="#b0b0b0" stroke-width="0.7"/>
<line x1="335.6" y1="343.2" x2="335.6" y2="373.2" stroke="#b0b0b0" stroke-width="0.7"/>
<line x1="137.6" y1="343.2" x2="368.6" y2="343.2" stroke="#b0b0b0" stroke-width="0.7"/>
<line x1="302.7" y1="333.2" x2="302.7" y2="373.2" stroke="#555" stroke-width="0.8"/>
<line x1="368.6" y1="333.2" x2="368.6" y2="373.2" stroke="#555" stroke-width="0.8"/>
<line x1="137.6" y1="333.2" x2="401.6" y2="333.2" stroke="#444" stroke-width="0.9"/>
<line x1="52.9" y1="353.2" x2="401.6" y2="353.2" stroke="#444" stroke-width="0.9"/>
<line x1="52.9" y1="363.3" x2="401.6" y2="363.3" stroke="#444" stroke-width="0.9"/>
<line x1="137.6" y1="320.3" x2="137.6" y2="373.2" stroke="#444" stroke-width="0.9"/>
<rect x="52.9" y="320.3" width="348.7" height="52.9" fill="none" stroke="#444" stroke-width="1"/>
<text transform="translate(95.25,334.6) scale(1,1.12)" font-size="7.8" text-anchor="middle" font-family='"Liberation Sans", Arial, Helvetica, sans-serif' fill="#333" stroke="#333" stroke-width="0.1">Fractions of soil</text>
<text transform="translate(95.25,342.5) scale(1,1.12)" font-size="7.8" text-anchor="middle" font-family='"Liberation Sans", Arial, Helvetica, sans-serif' fill="#333" stroke="#333" stroke-width="0.1">forming materials</text>
<text transform="translate(95.25,361.7) scale(1,1.08)" font-size="8.0" text-anchor="middle" font-family='"Liberation Sans", Arial, Helvetica, sans-serif' fill="#333" stroke="#333" stroke-width="0.1">Mineral</text>
<text transform="translate(95.25,371.4) scale(1,1.08)" font-size="8.0" text-anchor="middle" font-family='"Liberation Sans", Arial, Helvetica, sans-serif' fill="#333" stroke="#333" stroke-width="0.1">Organic</text>
<text transform="translate(275.5,330) scale(1,1.12)" font-size="7.7" text-anchor="middle" font-family='"Liberation Sans", Arial, Helvetica, sans-serif' fill="#333" stroke="#333" stroke-width="0.1">Particle sizes, μm (by FAO)</text>
<text transform="translate(222.15,341) scale(1,1.1)" font-size="8.3" text-anchor="middle" font-family='"Liberation Sans", Arial, Helvetica, sans-serif' fill="#333" stroke="#333" stroke-width="0.1">Sand</text>
<text transform="translate(335.95,341) scale(1,1.1)" font-size="8.3" text-anchor="middle" font-family='"Liberation Sans", Arial, Helvetica, sans-serif' fill="#333" stroke="#333" stroke-width="0.1">Silt</text>
<text transform="translate(385.1,341) scale(1,1.1)" font-size="8.5" text-anchor="middle" font-family='"Liberation Sans", Arial, Helvetica, sans-serif' fill="#333" stroke="#333" stroke-width="0.1">Clay</text>
<text transform="translate(154.2,349.9) scale(1,1.1)" font-size="6.1" text-anchor="middle" font-family='"Liberation Sans", Arial, Helvetica, sans-serif' fill="#3a3a3a" stroke="#3a3a3a" stroke-width="0.08">Very coarse</text>
<text transform="translate(187.2,349.9) scale(1,1.1)" font-size="6.1" text-anchor="middle" font-family='"Liberation Sans", Arial, Helvetica, sans-serif' fill="#3a3a3a" stroke="#3a3a3a" stroke-width="0.08">Coarse</text>
<text transform="translate(220.15,349.9) scale(1,1.1)" font-size="6.1" text-anchor="middle" font-family='"Liberation Sans", Arial, Helvetica, sans-serif' fill="#3a3a3a" stroke="#3a3a3a" stroke-width="0.08">Medium</text>
<text transform="translate(253.1,349.9) scale(1,1.1)" font-size="6.1" text-anchor="middle" font-family='"Liberation Sans", Arial, Helvetica, sans-serif' fill="#3a3a3a" stroke="#3a3a3a" stroke-width="0.08">Fine</text>
<text transform="translate(286.1,349.9) scale(1,1.1)" font-size="6.1" text-anchor="middle" font-family='"Liberation Sans", Arial, Helvetica, sans-serif' fill="#3a3a3a" stroke="#3a3a3a" stroke-width="0.08">Very fine</text>
<text transform="translate(319.15,349.9) scale(1,1.1)" font-size="6.1" text-anchor="middle" font-family='"Liberation Sans", Arial, Helvetica, sans-serif' fill="#3a3a3a" stroke="#3a3a3a" stroke-width="0.08">Coarse</text>
<text transform="translate(352.1,349.9) scale(1,1.1)" font-size="6.1" text-anchor="middle" font-family='"Liberation Sans", Arial, Helvetica, sans-serif' fill="#3a3a3a" stroke="#3a3a3a" stroke-width="0.08">Fine</text>
<text transform="translate(154.2,360.8) scale(1,1.05)" font-size="6.7" text-anchor="middle" font-family='"Liberation Sans", Arial, Helvetica, sans-serif' fill="#333" stroke="#333" stroke-width="0.08">2000-1000</text>
<text transform="translate(154.2,370.6) scale(1,1.05)" font-size="6.7" text-anchor="middle" font-family='"Liberation Sans", Arial, Helvetica, sans-serif' fill="#333" stroke="#333" stroke-width="0.08">2000-1000</text>
<text transform="translate(187.2,360.8) scale(1,1.05)" font-size="6.7" text-anchor="middle" font-family='"Liberation Sans", Arial, Helvetica, sans-serif' fill="#333" stroke="#333" stroke-width="0.08">1000-500</text>
<text transform="translate(187.2,370.6) scale(1,1.05)" font-size="6.7" text-anchor="middle" font-family='"Liberation Sans", Arial, Helvetica, sans-serif' fill="#333" stroke="#333" stroke-width="0.08">1000-500</text>
<text transform="translate(220.15,360.8) scale(1,1.05)" font-size="6.7" text-anchor="middle" font-family='"Liberation Sans", Arial, Helvetica, sans-serif' fill="#333" stroke="#333" stroke-width="0.08">500-250</text>
<text transform="translate(220.15,370.6) scale(1,1.05)" font-size="6.7" text-anchor="middle" font-family='"Liberation Sans", Arial, Helvetica, sans-serif' fill="#333" stroke="#333" stroke-width="0.08">500-250</text>
<text transform="translate(253.1,360.8) scale(1,1.05)" font-size="6.7" text-anchor="middle" font-family='"Liberation Sans", Arial, Helvetica, sans-serif' fill="#333" stroke="#333" stroke-width="0.08">250-106</text>
<text transform="translate(253.1,370.6) scale(1,1.05)" font-size="6.7" text-anchor="middle" font-family='"Liberation Sans", Arial, Helvetica, sans-serif' fill="#333" stroke="#333" stroke-width="0.08">250-106</text>
<text transform="translate(286.1,360.8) scale(1,1.05)" font-size="6.7" text-anchor="middle" font-family='"Liberation Sans", Arial, Helvetica, sans-serif' fill="#333" stroke="#333" stroke-width="0.08">106-53</text>
<text transform="translate(286.1,370.6) scale(1,1.05)" font-size="6.7" text-anchor="middle" font-family='"Liberation Sans", Arial, Helvetica, sans-serif' fill="#333" stroke="#333" stroke-width="0.08">106-53</text>
<text transform="translate(319.15,360.8) scale(1,1.05)" font-size="6.7" text-anchor="middle" font-family='"Liberation Sans", Arial, Helvetica, sans-serif' fill="#333" stroke="#333" stroke-width="0.08">53-38</text>
<text transform="translate(319.15,370.6) scale(1,1.05)" font-size="6.7" text-anchor="middle" font-family='"Liberation Sans", Arial, Helvetica, sans-serif' fill="#333" stroke="#333" stroke-width="0.08">53-38</text>
<text transform="translate(352.1,360.8) scale(1,1.05)" font-size="6.7" text-anchor="middle" font-family='"Liberation Sans", Arial, Helvetica, sans-serif' fill="#333" stroke="#333" stroke-width="0.08">38-2</text>
<text transform="translate(352.1,370.6) scale(1,1.05)" font-size="6.7" text-anchor="middle" font-family='"Liberation Sans", Arial, Helvetica, sans-serif' fill="#333" stroke="#333" stroke-width="0.08">38-2</text>
<text transform="translate(385.1,360.8) scale(1,1.05)" font-size="6.7" text-anchor="middle" font-family='"Liberation Sans", Arial, Helvetica, sans-serif' fill="#333" stroke="#333" stroke-width="0.08">&lt;2</text>
<text transform="translate(385.1,370.6) scale(1,1.05)" font-size="6.7" text-anchor="middle" font-family='"Liberation Sans", Arial, Helvetica, sans-serif' fill="#333" stroke="#333" stroke-width="0.08">&lt;2</text>
</svg>
</div></body></html>
